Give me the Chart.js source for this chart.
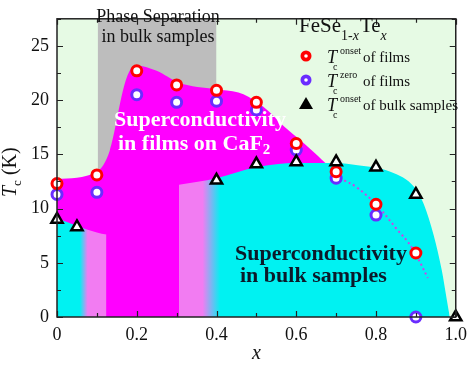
<!DOCTYPE html>
<html>
<head>
<meta charset="utf-8">
<script src="https://cdn.jsdelivr.net/npm/chart.js@4.4.1/dist/chart.umd.min.js"></script>
<style>
  html, body { margin: 0; padding: 0; background: #fff; }
  canvas { display: block; }
</style>
</head>
<body>
<canvas id="phaseChart" width="474" height="368"></canvas>
<script>
// puntos medidos (x, Tc)
const filmX = [0, 0.1, 0.2, 0.3, 0.4, 0.5, 0.6, 0.7, 0.8, 0.9];
const tcOnsetFilms = [12.3, 13.1, 22.7, 21.4, 20.9, 19.8, 16.0, 13.4, 10.4, 5.9];
const tcZeroFilms = [11.3, 11.5, 20.5, 19.8, 19.9, 19.1, 15.4, 12.8, 9.4, 0];

const bulkX = [0, 0.05, 0.4, 0.5, 0.6, 0.7, 0.8, 0.9, 1.0];
const tcOnsetBulk = [9.0, 8.3, 12.6, 14.1, 14.3, 14.3, 13.8, 11.3, 0];

// contornos de las regiones
const filmRegionX = [0, 0.1, 0.132, 0.169, 0.185, 0.2, 0.25, 0.306, 0.398, 0.455, 0.48, 0.53, 0.56, 0.604, 0.647, 0.68, 0.7];
const filmRegionY = [12.7, 13.4, 15.3, 21.4, 22.9, 23.2, 22.7, 21.6, 21.0, 20.7, 20.3, 19.0, 17.9, 16.5, 15.1, 14.0, 13.5];

const bulkLeftX = [0, 0.05, 0.1, 0.124];
const bulkLeftY = [9.1, 8.4, 7.8, 7.6];

const bulkDomeX = [0.306, 0.4, 0.5, 0.6, 0.7, 0.754, 0.836, 0.898, 0.92, 0.945, 0.965, 0.978, 0.985];
const bulkDomeY = [12.2, 12.8, 13.8, 14.2, 14.2, 14.0, 13.4, 11.9, 10.4, 7.5, 4.3, 1.5, 0];

const phaseSepX = [0.102, 0.4];
const phaseSepY = [27.5, 27.5];

const trendX = [0.72, 0.75, 0.8, 0.85, 0.89, 0.93];
const trendY = [12.6, 12.0, 10.4, 8.2, 6.4, 3.6];

const xTicks = [0, 0.2, 0.4, 0.6, 0.8, 1.0];
const yTicks = [0, 5, 10, 15, 20, 25];

const pts = (xs, ys) => xs.map((x, i) => ({ x: x, y: ys[i] }));
const serif = 'Liberation Serif';

// degradado horizontal segun valores de x
function hGradient(ctx, stops) {
    const chart = ctx.chart;
    const area = chart.chartArea;
    if (!area) return null;
    const xs = chart.scales.x;
    const g = chart.ctx.createLinearGradient(area.left, 0, area.right, 0);
    stops.forEach(s => {
        const p = (xs.getPixelForValue(s[0]) - area.left) / (area.right - area.left);
        g.addColorStop(Math.min(1, Math.max(0, p)), s[1]);
    });
    return g;
}

const pink = '#f27cf2';
const cyan = '#00f2f2';

const frameAndText = {
    id: 'frameAndText',
    beforeDraw(chart) {
        const { ctx, chartArea: a } = chart;
        ctx.save();
        ctx.fillStyle = '#e6fae4';
        ctx.fillRect(a.left, a.top, a.right - a.left, a.bottom - a.top);
        ctx.restore();
    },
    afterDraw(chart) {
        const { ctx, chartArea: a, scales } = chart;
        const sx = scales.x, sy = scales.y;
        ctx.save();
        // marco y marcas hacia dentro
        ctx.strokeStyle = '#222';
        ctx.lineWidth = 1.5;
        ctx.strokeRect(a.left, a.top, a.right - a.left, a.bottom - a.top);
        ctx.lineWidth = 1.2;
        ctx.beginPath();
        for (let v = 0; v <= 10; v++) {
            const px = Math.round(sx.getPixelForValue(v / 10)) + 0.5;
            const len = v % 2 === 0 ? 6 : 4;
            ctx.moveTo(px, a.bottom); ctx.lineTo(px, a.bottom - len);
            ctx.moveTo(px, a.top); ctx.lineTo(px, a.top + len);
        }
        for (let v = 0; v <= 27.5; v += 2.5) {
            const py = Math.round(sy.getPixelForValue(v)) + 0.5;
            const len = v % 5 === 0 ? 6 : 4;
            ctx.moveTo(a.left, py); ctx.lineTo(a.left + len, py);
            ctx.moveTo(a.right, py); ctx.lineTo(a.right - len, py);
        }
        ctx.stroke();

        // titulos de ejes
        ctx.fillStyle = '#111';
        ctx.textBaseline = 'alphabetic';
        ctx.save();
        ctx.translate(16, 197);
        ctx.rotate(-Math.PI / 2);
        ctx.font = 'italic 20px ' + serif;
        ctx.fillText('T', 0, 0);
        let w = ctx.measureText('T').width;
        ctx.font = '13px ' + serif;
        ctx.fillText('c', w, 5);
        w += ctx.measureText('c').width;
        ctx.font = '20px ' + serif;
        ctx.fillText(' (K)', w, 0);
        ctx.restore();
        ctx.font = 'italic 20px ' + serif;
        ctx.textAlign = 'center';
        ctx.fillText('x', sx.getPixelForValue(0.5), 359);

        // anotaciones
        ctx.font = '18px ' + serif;
        ctx.fillText('Phase Separation', 158, 22);
        ctx.fillText('in bulk samples', 158, 42);

        ctx.textAlign = 'left';
        ctx.font = 'bold 22px ' + serif;
        ctx.fillStyle = '#ffffff';
        ctx.fillText('Superconductivity', 114, 126);
        ctx.fillText('in films on CaF', 118, 150);
        const cw = ctx.measureText('in films on CaF').width;
        ctx.font = 'bold 15px ' + serif;
        ctx.fillText('2', 118 + cw, 154);

        ctx.font = 'bold 22px ' + serif;
        ctx.fillStyle = '#0b1a2a';
        ctx.fillText('Superconductivity', 235, 260);
        ctx.fillText('in bulk samples', 240, 282);

        // leyenda
        ctx.fillStyle = '#111';
        let lx = 299;
        ctx.font = '21px ' + serif;
        ctx.fillText('FeSe', lx, 32);
        lx += ctx.measureText('FeSe').width;
        ctx.font = '14px ' + serif;
        ctx.fillText('1-', lx, 40);
        lx += ctx.measureText('1-').width;
        ctx.font = 'italic 14px ' + serif;
        ctx.fillText('x', lx, 40);
        lx += ctx.measureText('x').width + 1;
        ctx.font = '21px ' + serif;
        ctx.fillText('Te', lx, 32);
        lx += ctx.measureText('Te').width;
        ctx.font = 'italic 14px ' + serif;
        ctx.fillText('x', lx, 40);

        const entries = [
            { sup: 'onset', txt: 'of films', kind: 'red' },
            { sup: 'zero', txt: 'of films', kind: 'blue' },
            { sup: 'onset', txt: 'of bulk samples', kind: 'tri' }
        ];
        entries.forEach((e, i) => {
            const cy = 56 + i * 24;
            if (e.kind === 'tri') {
                ctx.fillStyle = '#000';
                ctx.beginPath();
                ctx.moveTo(306, cy - 7); ctx.lineTo(313, cy + 5); ctx.lineTo(299, cy + 5);
                ctx.closePath(); ctx.fill();
            } else {
                ctx.fillStyle = e.kind === 'red' ? '#ff0000' : '#6a2cff';
                ctx.beginPath(); ctx.arc(306, cy, 5.5, 0, Math.PI * 2); ctx.fill();
                ctx.fillStyle = '#fff';
                ctx.beginPath(); ctx.arc(306, cy, 1.8, 0, Math.PI * 2); ctx.fill();
            }
            ctx.fillStyle = '#111';
            ctx.font = 'italic 18px ' + serif;
            ctx.fillText('T', 327, cy + 7);
            ctx.font = '10px ' + serif;
            ctx.fillText('c', 333, cy + 14);
            ctx.fillText(e.sup, 340, cy - 2);
            ctx.font = '15px ' + serif;
            ctx.fillText(e.txt, 363, cy + 6);
        });
        ctx.restore();
    }
};

const marker = (color) => ({
    showLine: false,
    pointStyle: 'circle',
    pointRadius: 5,
    pointBorderWidth: 3,
    pointBorderColor: color,
    pointBackgroundColor: '#ffffff',
    clip: false
});

new Chart(document.getElementById('phaseChart'), {
    type: 'scatter',
    data: {
        datasets: [
            Object.assign({ label: 'Tc onset films', data: pts(filmX, tcOnsetFilms), order: 1 }, marker('#ff0000')),
            Object.assign({ label: 'Tc zero films', data: pts(filmX, tcZeroFilms), order: 2 }, marker('#6a2cff')),
            {
                label: 'Tc onset bulk', data: pts(bulkX, tcOnsetBulk), order: 0,
                showLine: false, pointStyle: 'triangle', pointRadius: 6.5,
                pointBorderWidth: 2.5, pointBorderColor: '#000', pointBackgroundColor: '#ffffff', clip: false
            },
            {
                label: 'trend', data: pts(trendX, trendY), order: 3,
                showLine: true, pointRadius: 0, borderColor: '#d13fe6', borderWidth: 2,
                borderDash: [2, 3], tension: 0.4
            },
            {
                label: 'bulk dome', data: pts(bulkDomeX, bulkDomeY), order: 4,
                showLine: true, pointRadius: 0, borderWidth: 0, fill: 'origin',
                cubicInterpolationMode: 'monotone',
                backgroundColor: c => hGradient(c, [[0.306, pink], [0.365, pink], [0.41, cyan], [1, cyan]])
            },
            {
                label: 'bulk left', data: pts(bulkLeftX, bulkLeftY), order: 5,
                showLine: true, pointRadius: 0, borderWidth: 0, fill: 'origin',
                cubicInterpolationMode: 'monotone',
                backgroundColor: c => hGradient(c, [[0, cyan], [0.057, cyan], [0.077, pink], [0.124, pink]])
            },
            {
                label: 'films', data: pts(filmRegionX, filmRegionY), order: 6,
                showLine: true, pointRadius: 0, borderWidth: 0, fill: 'origin',
                cubicInterpolationMode: 'monotone', backgroundColor: '#ff00ff'
            },
            {
                label: 'phase separation', data: pts(phaseSepX, phaseSepY), order: 7,
                showLine: true, pointRadius: 0, borderWidth: 0, fill: 'origin',
                backgroundColor: '#bdbdbd'
            }
        ]
    },
    options: {
        responsive: false,
        animation: false,
        devicePixelRatio: 1,
        layout: { padding: { top: 1, right: 14, left: 0, bottom: 0 } },
        plugins: { legend: { display: false }, tooltip: { enabled: false } },
        scales: {
            x: {
                type: 'linear', min: 0, max: 1,
                afterFit: s => { s.height = 51; },
                afterBuildTicks: s => { s.ticks = xTicks.map(v => ({ value: v })); },
                grid: { display: false, drawTicks: false },
                border: { display: false },
                ticks: {
                    padding: 7, color: '#111', font: { family: serif, size: 18 },
                    maxRotation: 0,
                    callback: v => v === 0 ? '0' : v.toFixed(1)
                }
            },
            y: {
                type: 'linear', min: 0, max: 27.5,
                afterFit: s => { s.width = 57; },
                afterBuildTicks: s => { s.ticks = yTicks.map(v => ({ value: v })); },
                grid: { display: false, drawTicks: false },
                border: { display: false },
                ticks: {
                    padding: 8, color: '#111', font: { family: serif, size: 18 },
                    callback: v => String(v)
                }
            }
        }
    },
    plugins: [frameAndText]
});
</script>
</body>
</html>
